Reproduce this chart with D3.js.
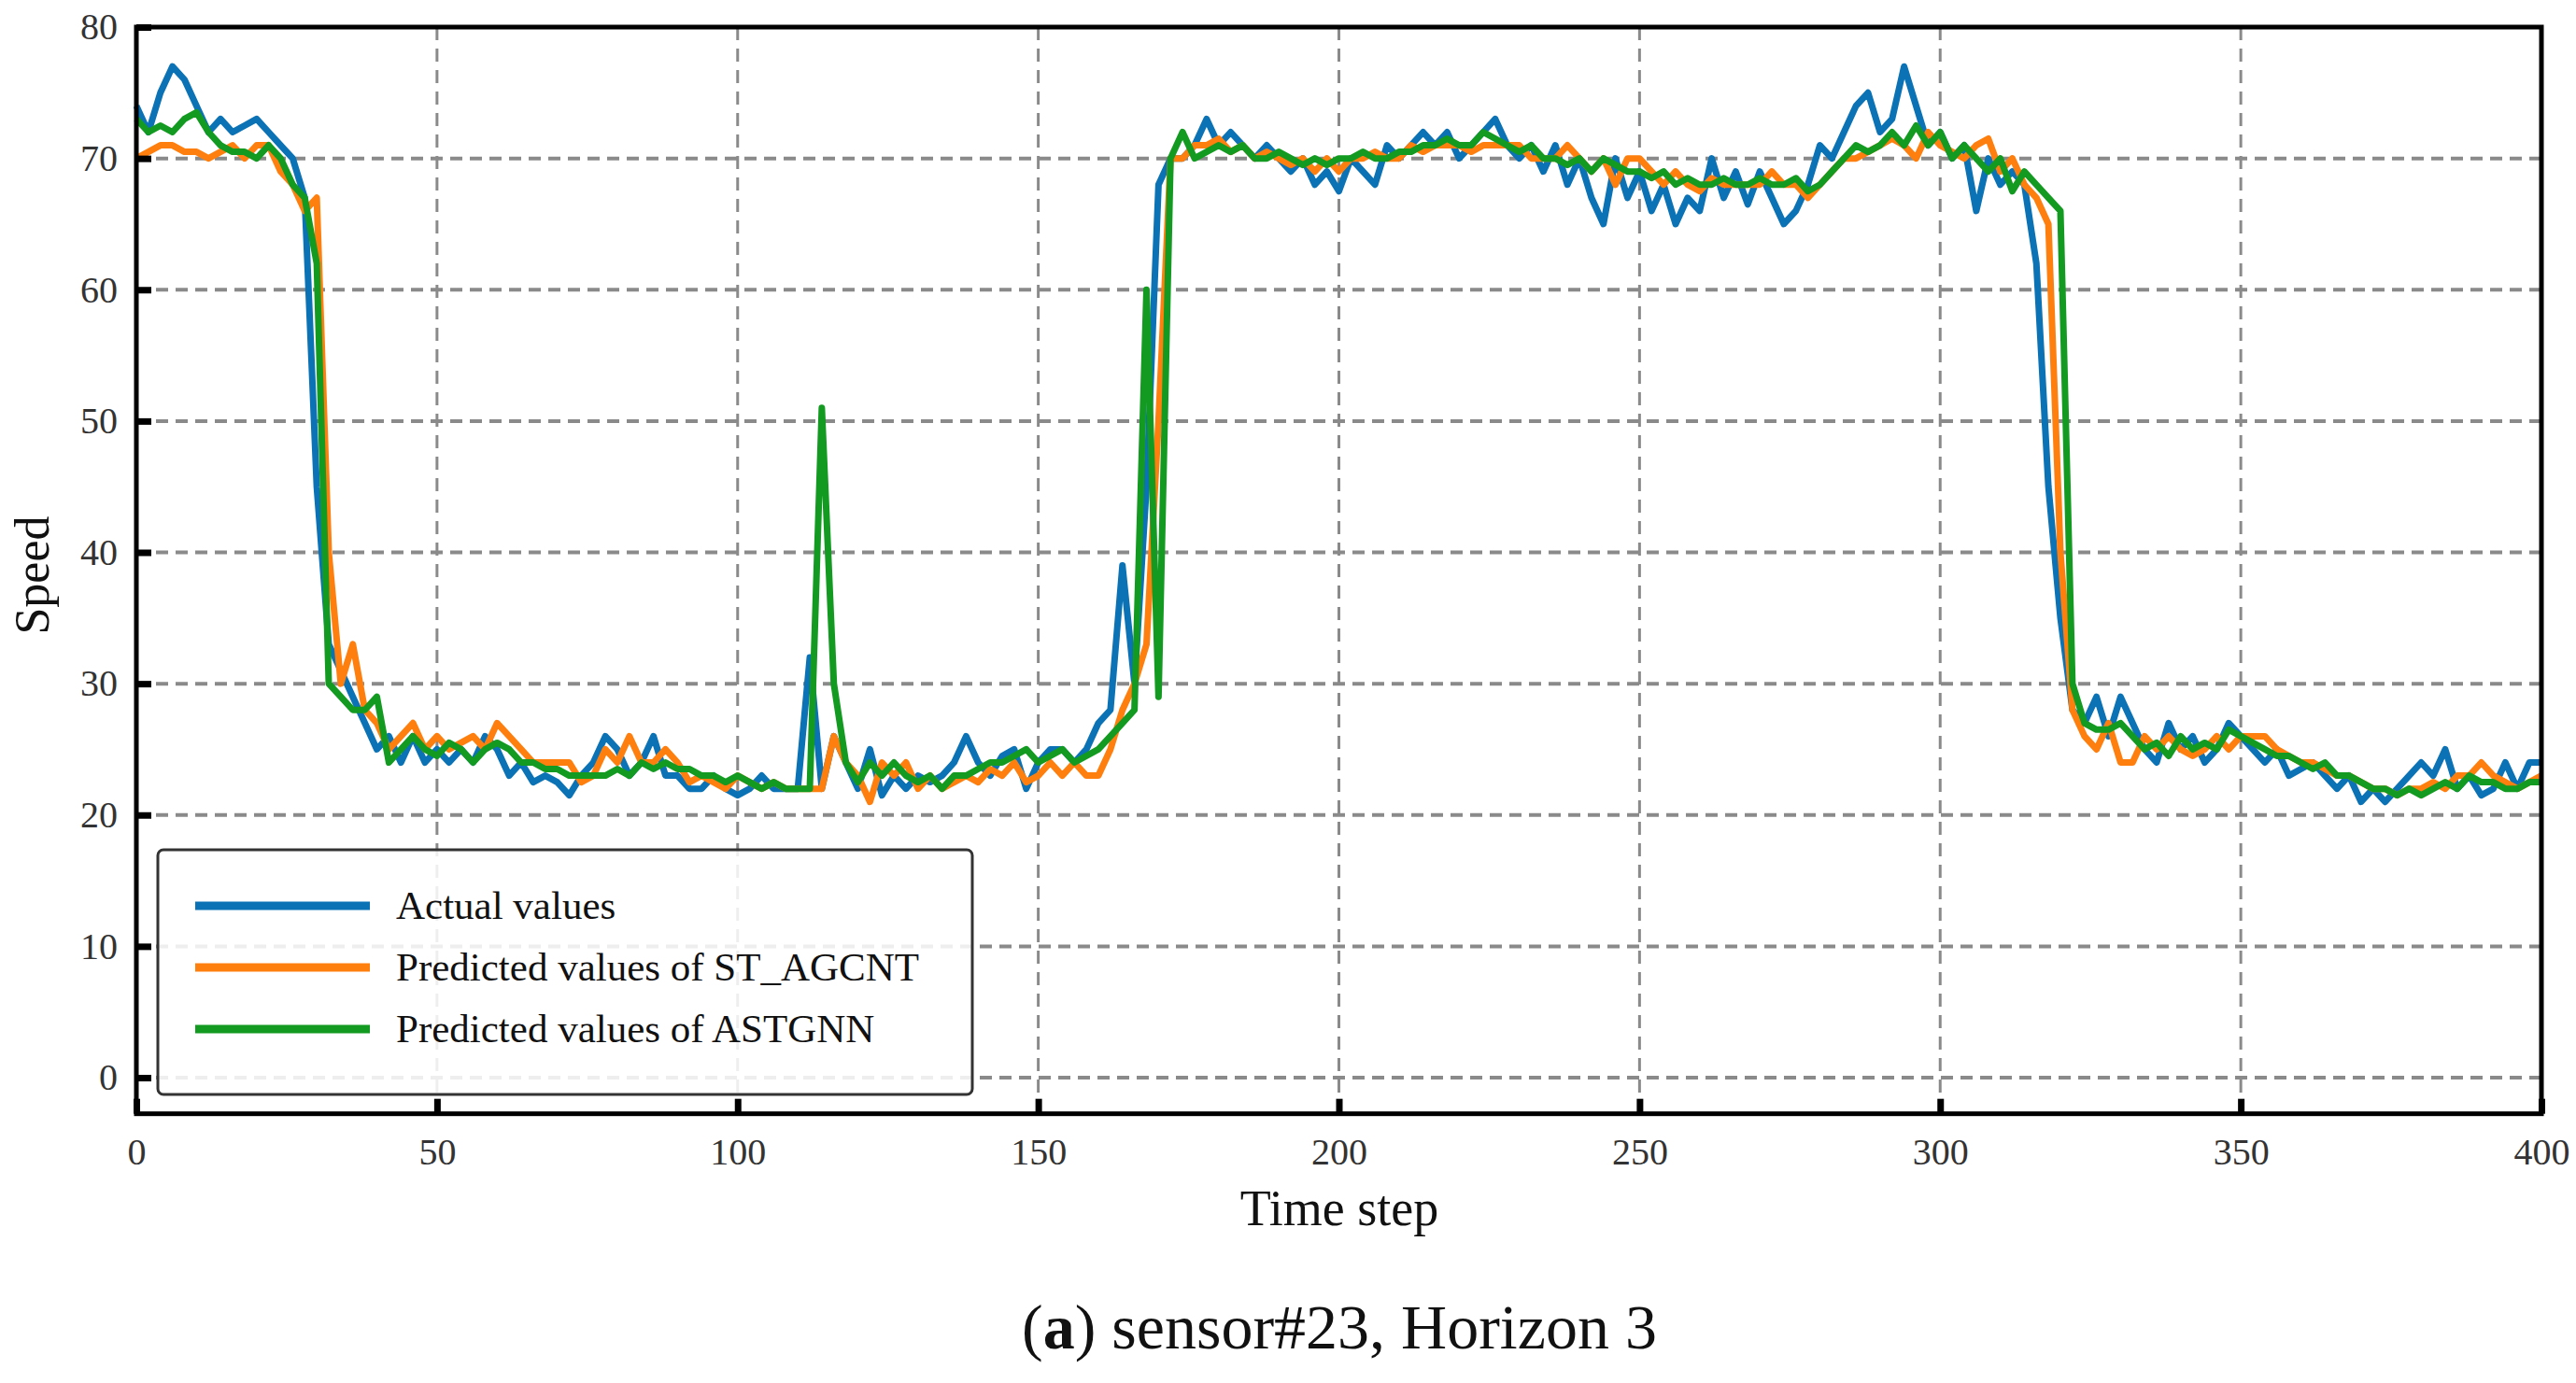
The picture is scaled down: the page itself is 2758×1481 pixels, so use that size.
<!DOCTYPE html>
<html>
<head>
<meta charset="utf-8">
<script src="https://cdn.jsdelivr.net/npm/d3@7"></script>
<style>
  body { margin: 0; background: #fff; }
  text { font-family: "Liberation Serif", "DejaVu Serif", serif; }
</style>
</head>
<body>
<div id="chart"></div>
<script>
// time steps, sampled every 2
var steps = d3.range(0, 401, 2);

var actual = [
  74,72,75,77,76,74,72,73,72,72.5, 73,72,71,70,67,45,33,31,29,27,
  25,26,24,26,24,25,24,25,24,26, 25,23,24,22.5,23,22.5,21.5,23,24,26,
  25,23,24,26,23,23,22,22,23,22, 21.5,22,23,22,22,22,32,22,26,24,
  22,25,21.5,23,22,23,22.5,23,24,26, 24,23,24.5,25,22,24,25,25,24,25,
  27,28,39,30,45,68,70,70,71,73, 71,72,71,70,71,70,69,70,68,69,
  67.5,70,69,68,71,70,71,72,71,72, 70,71,72,73,71,70,71,69,71,68,
  70,67,65,70,67,69,66,68,65,67, 66,70,67,69,66.5,69,67,65,66,68,
  71,70,72,74,75,72,73,77,74,71, 72,70,71,66,70,68,69,68,62,45,
  35,28,27,29,26,29,27,25,24,27, 25,26,24,25,27,26,25,24,25,23,
  23.5,24,23,22,23,21,22,21,22,23, 24,23,25,22,23,21.5,22,24,22,24,
  24
];

var stagcnt = [
  70,70.5,71,71,70.5,70.5,70,70.5,71,70, 71,71,69,68,66,67,40,30,33,28,
  27,25,26,27,25,26,25,25.5,26,25, 27,26,25,24,24,24,24,22.5,23,25,
  24,26,24,24,25,24,22.5,23,22.5,22, 23,22.5,22,22.5,22,22,22,22,26,24,
  23,21,24,23,24,22,23,22,22.5,23, 22.5,23.5,23,24,22.5,23,24,23,24,23,
  23,25,28,30,33,50,70,70,71,71, 71.5,70.5,71,70,70.5,70,69.5,70,69,70,
  69,70,70,70.5,70,70,71,70.5,71,71, 71,70.5,71,71,71,71,70,70,70,71,
  70,69,70,68,70,70,69,68,69,68, 67.5,68.5,68,68,68,68,69,68,68,67,
  68,69,70,70,70.5,71,71.5,71,70,72, 71,70.5,70,71,71.5,69,70,68,67,65,
  40,28,26,25,27,24,24,26,25,26, 25,24.5,25,26,25,26,26,26,25,24.5,
  24,24,23.5,23,23,22.5,22,22,21.5,22, 22,22.5,22,23,23,24,23,22.5,22,22.5,
  23
];

var astgnn = [
  73,72,72.5,72,73,73.5,72,71,70.5,70.5, 70,71,70,68,67,62,30,29,28,28,
  29,24,25,26,25,24.5,25.5,25,24,25, 25.5,25,24,24,23.5,23.5,23,23,23,23,
  23.5,23,24,23.5,24,23.5,23.5,23,23,22.5, 23,22.5,22,22.5,22,22,22,51,30,24,
  22.5,24,23,24,23,22.5,23,22,23,23, 23.5,24,24,24.5,25,24,24.5,25,24,24.5,
  25,26,27,28,60,29,70,72,70,70.5, 71,70.5,71,70,70,70.5,70,69.5,70,69.5,
  70,70,70.5,70,70,70.5,70.5,71,71,71.5, 71,71,72,71.5,71,70.5,71,70,70,69.5,
  70,69,70,69.5,69,69,68.5,69,68,68.5, 68,68,68.5,68,68,68.5,68,68,68.5,67.5,
  68,69,70,71,70.5,71,72,71,72.5,71, 72,70,71,70,69,70,67.5,69,68,67,
  66,30,27,26.5,26.5,27,26,25,25.5,24.5, 26,25,25.5,25,26.5,26,25.5,25,24.5,24.5,
  24,23.5,24,23,23,22.5,22,22,21.5,22, 21.5,22,22.5,22,23,22.5,22.5,22,22,22.5,
  22.5
];

var seriesNames = ["Actual values", "Predicted values of ST_AGCNT", "Predicted values of ASTGNN"];
var seriesColors = ["#0a72b5", "#ff7f0e", "#139a21"];
var xTicks = [0, 50, 100, 150, 200, 250, 300, 350, 400];
var yTicks = [0, 10, 20, 30, 40, 50, 60, 70, 80];

var W = 2758, H = 1481;
var svg = d3.select("#chart").append("svg").attr("width", W).attr("height", H);

var x = d3.scaleLinear().domain([0, 400]).range([146, 2721]);
var y = d3.scaleLinear().domain([0, 80]).range([1154, 29]);
var yBottom = y(-2.75);

// grid
svg.append("g").selectAll("line").data(xTicks.slice(1, -1)).enter().append("line")
  .attr("x1", d => x(d)).attr("x2", d => x(d)).attr("y1", y(80)).attr("y2", yBottom)
  .attr("stroke", "#8a8a8a").attr("stroke-width", 3).attr("stroke-dasharray", "14,9");
svg.append("g").selectAll("line").data(yTicks.slice(0, -1)).enter().append("line")
  .attr("x1", x(0)).attr("x2", x(400)).attr("y1", d => y(d)).attr("y2", d => y(d))
  .attr("stroke", "#8a8a8a").attr("stroke-width", 4).attr("stroke-dasharray", "13,8");

// lines
var line = d3.line().x((d, i) => x(steps[i])).y(d => y(d));
[actual, stagcnt, astgnn].forEach(function (s, k) {
  svg.append("path").datum(s.slice(0, steps.length))
    .attr("d", line).attr("fill", "none")
    .attr("stroke", seriesColors[k]).attr("stroke-width", 7)
    .attr("stroke-linejoin", "round");
});

// axes with inward ticks
var gx = svg.append("g").attr("transform", "translate(0," + yBottom + ")")
  .call(d3.axisBottom(x).tickValues(xTicks).tickSizeInner(-16).tickSizeOuter(0).tickPadding(26));
var gy = svg.append("g").attr("transform", "translate(" + x(0) + ",0)")
  .call(d3.axisLeft(y).tickValues(yTicks).tickSizeInner(-16).tickSizeOuter(0).tickPadding(20));
[gx, gy].forEach(function (g) {
  g.select(".domain").remove();
  g.selectAll(".tick line").attr("stroke", "#000").attr("stroke-width", 7);
  g.selectAll(".tick text").attr("font-size", 40).attr("fill", "#333")
    .attr("font-family", "Liberation Serif");
});

// frame
svg.append("rect").attr("x", x(0)).attr("y", y(80)).attr("width", x(400) - x(0))
  .attr("height", yBottom - y(80)).attr("fill", "none").attr("stroke", "#000").attr("stroke-width", 5);

// legend
var lg = svg.append("g");
lg.append("rect").attr("x", 169).attr("y", 910).attr("width", 872).attr("height", 262)
  .attr("rx", 6).attr("fill", "#fff").attr("fill-opacity", 0.85)
  .attr("stroke", "#333").attr("stroke-width", 3);
seriesNames.forEach(function (n, k) {
  var yy = 970 + k * 66;
  lg.append("line").attr("x1", 209).attr("x2", 396).attr("y1", yy).attr("y2", yy)
    .attr("stroke", seriesColors[k]).attr("stroke-width", 9);
  lg.append("text").attr("x", 424).attr("y", yy + 14).attr("font-size", 43)
    .attr("fill", "#111").text(n);
});

// titles
svg.append("text").attr("x", 1434).attr("y", 1312).attr("text-anchor", "middle")
  .attr("font-size", 54).attr("fill", "#111").text("Time step");
svg.append("text").attr("transform", "translate(52,616) rotate(-90)").attr("text-anchor", "middle")
  .attr("font-size", 52).attr("fill", "#111").text("Speed");
var cap = svg.append("text").attr("x", 1434).attr("y", 1444).attr("text-anchor", "middle")
  .attr("font-size", 68).attr("fill", "#111");
cap.append("tspan").text("(");
cap.append("tspan").attr("font-weight", "bold").text("a");
cap.append("tspan").text(") sensor#23, Horizon 3");
</script>
</body>
</html>
